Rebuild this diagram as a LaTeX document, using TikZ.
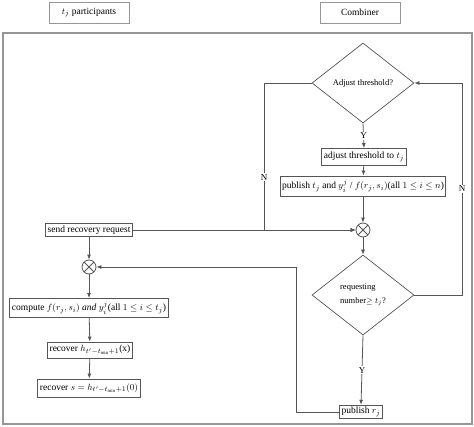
\documentclass[tikz,border=0pt]{standalone}
\usepackage{fontspec}
\setmainfont{Liberation Serif}
\usetikzlibrary{shapes.geometric,arrows.meta}
\definecolor{linegray}{RGB}{85,85,85}
\definecolor{framegray}{RGB}{150,150,150}
\tikzset{
  stepbox/.style={draw=linegray, line width=0.9pt, fill=white, inner sep=2pt,
    minimum height=13pt, font=\fontsize{9.5}{11}\selectfont},
  decision/.style={diamond, draw=linegray, line width=0.7pt, minimum width=102pt,
    minimum height=80pt, inner sep=0pt, align=left, font=\fontsize{8.5}{14}\selectfont},
  joint/.style={circle, draw=linegray, line width=0.8pt, minimum size=14pt, inner sep=0pt,
    path picture={\draw[linegray, line width=0.8pt]
      (path picture bounding box.north west) -- (path picture bounding box.south east)
      (path picture bounding box.north east) -- (path picture bounding box.south west);}},
  flow/.style={draw=linegray, line width=0.8pt, -{Latex[length=5pt,width=4pt]}},
  link/.style={draw=linegray, line width=0.8pt},
  tag/.style={fill=white, inner sep=1pt, font=\fontsize{9}{10}\selectfont}
}
\begin{document}
\begin{tikzpicture}[x=1pt,y=-1pt]
  \useasboundingbox (0,0) rectangle (474,426);
  \draw[framegray, line width=2pt] (3,33) rectangle (472,424);
  \node[stepbox, draw=framegray, minimum width=80pt, minimum height=21pt] (part) at (89,12.5) {$t_j$ participants};
  \node[stepbox, draw=framegray, minimum width=80pt, minimum height=21pt] (comb) at (360,12.5) {Combiner};

  % combiner side
  \node[decision] (adj) at (363,83) {Adjust threshold?};
  \node[stepbox, minimum height=17pt] (setthr) at (364,157) {adjust threshold to $t_j$};
  \node[stepbox, minimum height=20pt] (pubt) at (363,186) {publish $t_j$ and $y_i^j$ / $f(r_j,s_i)$(all $1\leq i\leq n$)};
  \node[joint] (mixc) at (363,230) {};
  \node[decision] (req) at (363,295) {requesting\\number$\geq t_j$?};
  \node[stepbox] (pubr) at (361,412) {publish $r_j$};

  % participant side
  \node[stepbox] (send) at (89,230) {send recovery request};
  \node[joint] (mixp) at (89,267) {};
  \node[stepbox, minimum height=19pt] (comp) at (89,308) {compute $f(r_j,s_i)$ \textit{and} $y_i^j$(all $1\leq i\leq t_j$)};
  \node[stepbox, minimum height=16pt] (rech) at (90,350) {recover $h_{t'-t_{\min}+1}$(x)};
  \node[stepbox, minimum height=18pt] (recs) at (89,388) {recover $s=h_{t'-t_{\min}+1}(0)$};

  \coordinate (nl) at (264,83);
  \coordinate (nr) at (462,295);
  \coordinate (bk) at (296,412);

  % connectors
  \draw[flow] (adj.south) -- node[tag] {Y} (setthr.north);
  \draw[flow] (setthr) -- (pubt);
  \draw[flow] (pubt) -- (mixc);
  \draw[flow] (mixc) -- (req);
  \draw[flow] (req.south) -- node[tag] {Y} (pubr.north);
  \draw[flow] (adj.west) -- (nl) -- node[tag, pos=0.64] {N} (nl |- mixc) -- (mixc.west);
  \draw[flow] (req.east) -- (nr) -- node[tag] {N} (nr |- adj) -- (adj.east);
  \draw[flow] (send.east) -- (mixc.west);
  \draw[flow] (pubr.west) -- (bk) -- (bk |- mixp) -- (mixp.east);
  \draw[flow] (send) -- (mixp);
  \draw[flow] (mixp) -- (comp);
  \draw[flow] (comp) -- (rech);
  \draw[flow] (rech) -- (recs);
\end{tikzpicture}
\end{document}
